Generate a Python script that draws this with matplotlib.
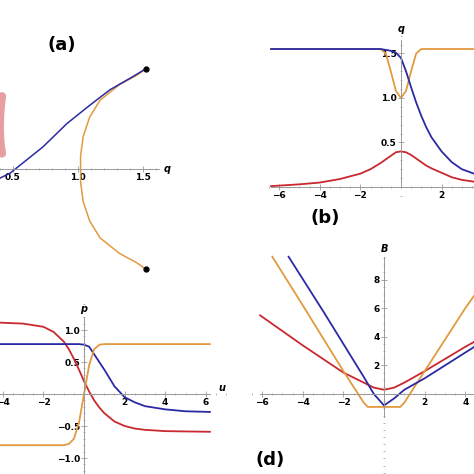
import matplotlib
matplotlib.use("Agg")
import matplotlib.pyplot as plt
from matplotlib.ticker import MultipleLocator

BLUE = "#2b2aa6"; ORANGE = "#e39a3f"; RED = "#c9282f"

# Panel (a): phase portrait (q, p)
a_orange_q = [1.52, 1.45, 1.32, 1.17, 1.09, 1.04, 1.02, 1.02, 1.02, 1.04, 1.09, 1.17, 1.32, 1.45, 1.52]
a_orange_p = [0.77, 0.72, 0.65, 0.53, 0.40, 0.25, 0.10, 0.00, -0.10, -0.25, -0.40, -0.53, -0.65, -0.72, -0.77]
a_blue_q = [1.52, 1.42, 1.246, 1.09, 0.915, 0.73, 0.58, 0.48, 0.40]
a_blue_p = [0.77, 0.71, 0.61, 0.49, 0.35, 0.17, 0.05, -0.03, -0.07]
a_red_q = [0.415, 0.405, 0.40, 0.398, 0.40, 0.405, 0.415]
a_red_p = [0.56, 0.48, 0.40, 0.33, 0.25, 0.18, 0.12]
a_pts_q = [1.52, 1.52]
a_pts_p = [0.77, -0.77]

# Panel (b): q(u)
b_u = [-6.4, -5, -4, -3, -2, -1.5, -1, -0.75, -0.5, -0.25, 0, 0.25, 0.5, 0.75, 1, 1.25, 1.5, 2, 2.5, 3, 3.6, 4]
b_blue = [1.55, 1.55, 1.55, 1.55, 1.55, 1.55, 1.55, 1.54, 1.53, 1.51, 1.45, 1.30, 1.12, 0.95, 0.80, 0.67, 0.56, 0.40, 0.28, 0.20, 0.15, 0.12]
b_orange = [1.55, 1.55, 1.55, 1.55, 1.55, 1.55, 1.55, 1.50, 1.30, 1.08, 1.00, 1.08, 1.30, 1.50, 1.55, 1.55, 1.55, 1.55, 1.55, 1.55, 1.55, 1.55]
b_red = [0.01, 0.03, 0.05, 0.09, 0.15, 0.20, 0.27, 0.31, 0.35, 0.39, 0.40, 0.39, 0.36, 0.32, 0.28, 0.24, 0.21, 0.16, 0.11, 0.08, 0.06, 0.05]

# Panel (c): p(u)
c_u = [-4.5, -3, -2, -1.5, -1, -0.75, -0.5, -0.25, 0, 0.25, 0.5, 0.75, 1, 1.5, 2, 2.5, 3, 4, 5, 6.2]
c_red = [1.12, 1.10, 1.05, 0.97, 0.82, 0.70, 0.55, 0.38, 0.20, 0.04, -0.10, -0.21, -0.30, -0.43, -0.50, -0.54, -0.56, -0.58, -0.585, -0.59]
c_blue = [0.78, 0.78, 0.78, 0.78, 0.78, 0.78, 0.78, 0.78, 0.77, 0.74, 0.62, 0.50, 0.38, 0.12, -0.05, -0.13, -0.19, -0.24, -0.27, -0.28]
c_orange = [-0.80, -0.80, -0.80, -0.80, -0.80, -0.78, -0.70, -0.45, 0.00, 0.45, 0.70, 0.77, 0.78, 0.78, 0.78, 0.78, 0.78, 0.78, 0.78, 0.78]

# Panel (d): B(u)
d_red_u = [-6.1, -4, -2, -1, -0.5, 0, 0.5, 1, 2, 4, 5]
d_red = [5.5, 3.4, 1.5, 0.8, 0.45, 0.3, 0.45, 0.8, 1.6, 3.3, 4.1]
d_blue_u = [-4.7, -3, -2, -1, -0.5, 0, 0.5, 1, 2, 3, 4, 5]
d_blue = [9.6, 5.8, 3.5, 1.2, 0.0, -0.8, -0.3, 0.3, 1.1, 2.0, 2.9, 3.8]
d_orange_u = [-5.5, -4, -2, -1.5, -1, -0.8, 0.8, 1, 1.5, 2, 3, 4, 4.5, 5]
d_orange = [9.6, 6.2, 1.6, 0.5, -0.6, -0.9, -0.9, -0.6, 0.5, 1.6, 3.8, 6.0, 7.0, 8.1]

W = 474
fig = plt.figure(figsize=(4.74, 4.74), dpi=100)

def make_ax(x0, x1, y0, y1, xlim, ylim):
    ax = fig.add_axes([x0 / W, 1 - y1 / W, (x1 - x0) / W, (y1 - y0) / W])
    ax.set_xlim(*xlim); ax.set_ylim(*ylim)
    ax.patch.set_alpha(0)
    for s in ("top", "right"):
        ax.spines[s].set_visible(False)
    for s in ("left", "bottom"):
        ax.spines[s].set_position(("data", 0))
        ax.spines[s].set_color("#999999")
        ax.spines[s].set_linewidth(0.7)
    ax.tick_params(which="both", direction="inout", color="#999999", labelsize=6.5, pad=1)
    ax.tick_params(which="major", length=4, width=0.6)
    ax.tick_params(which="minor", length=2, width=0.5)
    return ax

def bold(ax):
    for lab in ax.get_xticklabels() + ax.get_yticklabels():
        lab.set_fontweight("bold")

LW = 1.3
# (a)
ax = make_ax(0, 170, 30, 280, (0.4, 1.708), (-0.854, 1.07))
ax.plot(a_red_q, a_red_p, color=RED, lw=6, alpha=0.45, solid_capstyle="round")
ax.plot(a_orange_q, a_orange_p, color=ORANGE, lw=1.1)
ax.plot(a_blue_q, a_blue_p, color=BLUE, lw=1.1)
ax.plot(a_pts_q, a_pts_p, "o", color="black", ms=3.5)
ax.spines["left"].set_visible(False)
ax.spines["bottom"].set_bounds(0.4, 1.62)
ax.set_yticks([])
ax.set_xticks([0.5, 1.0, 1.5]); ax.set_xticklabels(["0.5", "1.0", "1.5"])
ax.xaxis.set_minor_locator(MultipleLocator(0.1))
bold(ax)
ax.text(1.66, 0.0, "q", fontsize=7, style="italic", fontweight="bold", va="center")

# (b)
ax = make_ax(265, 474, 20, 200, (-6.70, 3.60), (-0.146, 1.876))
ax.plot(b_u, b_red, color=RED, lw=LW)
ax.plot(b_u, b_orange, color=ORANGE, lw=LW)
ax.plot(b_u, b_blue, color=BLUE, lw=LW)
ax.spines["bottom"].set_bounds(-6.4, 3.6)
ax.spines["left"].set_bounds(0, 1.65)
ax.set_xticks([-6, -4, -2, 2]); ax.set_xticklabels(["\u22126", "\u22124", "\u22122", "2"])
ax.set_yticks([0.5, 1.0, 1.5]); ax.set_yticklabels(["0.5", "1.0", "1.5"])
ax.xaxis.set_minor_locator(MultipleLocator(0.5))
ax.yaxis.set_minor_locator(MultipleLocator(0.1))
bold(ax)
ax.text(0, 1.74, "q", fontsize=7, style="italic", fontweight="bold", ha="center")

# (c)
ax = make_ax(0, 230, 300, 474, (-4.14, 7.19), (-1.25, 1.469))
ax.plot(c_u, c_red, color=RED, lw=LW)
ax.plot(c_u, c_blue, color=BLUE, lw=LW)
ax.plot(c_u, c_orange, color=ORANGE, lw=LW)
ax.spines["bottom"].set_bounds(-4.2, 6.2)
ax.spines["left"].set_bounds(-1.25, 1.2)
ax.set_xticks([-4, -2, 2, 4, 6]); ax.set_xticklabels(["\u22124", "\u22122", "2", "4", "6"])
ax.set_yticks([-1.0, -0.5, 0.5, 1.0]); ax.set_yticklabels(["\u22121.0", "\u22120.5", "0.5", "1.0"])
ax.xaxis.set_minor_locator(MultipleLocator(0.5))
ax.yaxis.set_minor_locator(MultipleLocator(0.1))
bold(ax)
ax.text(6.6, 0.05, "u", fontsize=7, style="italic", fontweight="bold")
ax.text(0, 1.28, "p", fontsize=7, style="italic", fontweight="bold", ha="center")

# (d)
ax = make_ax(250, 474, 240, 474, (-6.60, 4.43), (-5.59, 10.77))
ax.plot(d_red_u, d_red, color=RED, lw=LW)
ax.plot(d_orange_u, d_orange, color=ORANGE, lw=LW)
ax.plot(d_blue_u, d_blue, color=BLUE, lw=LW)
ax.spines["bottom"].set_bounds(-6.1, 4.5)
ax.spines["left"].set_bounds(-1.6, 9.6)
ax.set_xticks([-6, -4, -2, 2, 4]); ax.set_xticklabels(["\u22126", "\u22124", "\u22122", "2", "4"])
ax.set_yticks([2, 4, 6, 8]); ax.set_yticklabels(["2", "4", "6", "8"])
ax.xaxis.set_minor_locator(MultipleLocator(0.5))
ax.yaxis.set_minor_locator(MultipleLocator(0.5))
bold(ax)
ax.text(0, 9.9, "B", fontsize=7, style="italic", fontweight="bold", ha="center")

def label(x, y, s):
    fig.text(x / W, 1 - y / W, s, fontsize=13, fontweight="bold", ha="center", va="center")

label(62, 45, "(a)")
label(325, 218, "(b)")
label(270, 460, "(d)")

fig.savefig("out.png", dpi=100)
